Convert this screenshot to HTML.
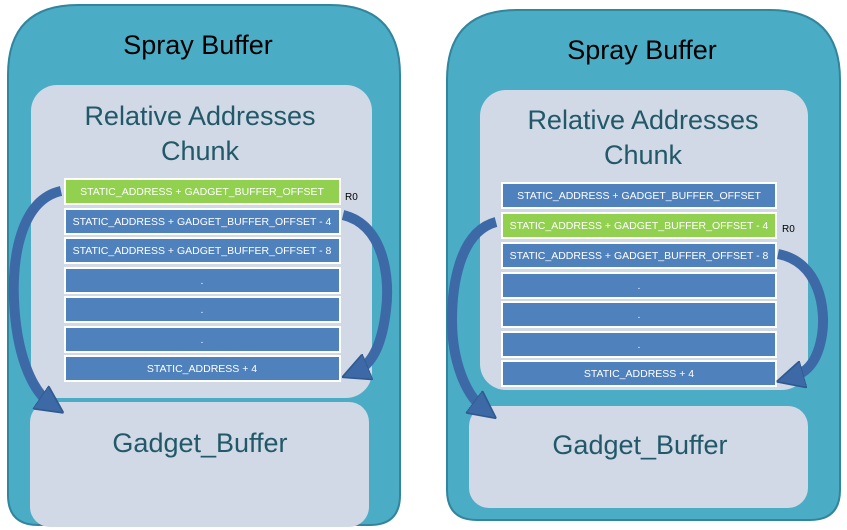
<!DOCTYPE html>
<html><head><meta charset="utf-8"><style>
html,body{margin:0;padding:0;background:#fff;width:847px;height:530px;overflow:hidden}
svg text{font-family:"Liberation Sans",sans-serif}
</style></head><body>
<svg width="847" height="530" viewBox="0 0 847 530" xmlns="http://www.w3.org/2000/svg">
<defs>
<marker id="ah" viewBox="0 0 10 10" refX="5" refY="5" markerWidth="2.8" markerHeight="2.8" orient="auto" markerUnits="strokeWidth">
<path d="M0,0 L10,5 L0,10 Z" fill="#3d6aa6" stroke="#2f5a8f" stroke-width="0.6"/>
</marker>
</defs>
<!-- LEFT -->
<path d="M78,5 H330 Q400,5 400,75 V495 Q400,525 370,525 H38 Q8,525 8,495 V75 Q8,5 78,5 Z" fill="#4bacc6" stroke="#31859c" stroke-width="2"/>
<text x="198" y="54" font-size="27" text-anchor="middle" fill="#000">Spray Buffer</text>
<rect x="31" y="85" width="341" height="313" rx="26" fill="#d1d8e6"/>
<text x="200" y="125" font-size="27" text-anchor="middle" fill="#215968">Relative Addresses</text>
<text x="200" y="160" font-size="27" text-anchor="middle" fill="#215968">Chunk</text>
<rect x="30" y="402" width="339" height="125" rx="20" fill="#d1d8e6"/>
<text x="200" y="452" font-size="27" text-anchor="middle" fill="#215968">Gadget_Buffer</text>
<g font-size="10.5" text-anchor="middle" fill="#fff">
<rect x="65" y="179" width="275" height="25" fill="#92d050" stroke="#fff" stroke-width="2"/><text x="202" y="195">STATIC_ADDRESS + GADGET_BUFFER_OFFSET</text>
<rect x="65" y="209" width="275" height="25" fill="#4f81bd" stroke="#fff" stroke-width="2"/><text x="202" y="225">STATIC_ADDRESS + GADGET_BUFFER_OFFSET - 4</text>
<rect x="65" y="238" width="275" height="25" fill="#4f81bd" stroke="#fff" stroke-width="2"/><text x="202" y="254">STATIC_ADDRESS + GADGET_BUFFER_OFFSET - 8</text>
<rect x="65" y="268" width="275" height="25" fill="#4f81bd" stroke="#fff" stroke-width="2"/><text x="202" y="284">.</text>
<rect x="65" y="297" width="275" height="25" fill="#4f81bd" stroke="#fff" stroke-width="2"/><text x="202" y="313">.</text>
<rect x="65" y="327" width="275" height="25" fill="#4f81bd" stroke="#fff" stroke-width="2"/><text x="202" y="343">.</text>
<rect x="65" y="356" width="275" height="25" fill="#4f81bd" stroke="#fff" stroke-width="2"/><text x="202" y="372">STATIC_ADDRESS + 4</text>
</g>
<text x="345" y="200" font-size="10" fill="#000">R0</text>
<path d="M61,191 C20,200 12,260 14,300 C16,350 30,390 52,405" fill="none" stroke="#3d6aa6" stroke-width="10" marker-end="url(#ah)"/>
<path d="M343,215 C385,225 390,280 386,310 C382,345 372,365 355,372" fill="none" stroke="#3d6aa6" stroke-width="10" marker-end="url(#ah)"/>
<!-- RIGHT -->
<path d="M517,10 H770 Q840,10 840,80 V490 Q840,520 810,520 H477 Q447,520 447,490 V80 Q447,10 517,10 Z" fill="#4bacc6" stroke="#31859c" stroke-width="2"/>
<text x="642" y="59" font-size="27" text-anchor="middle" fill="#000">Spray Buffer</text>
<rect x="480" y="90" width="328" height="300" rx="26" fill="#d1d8e6"/>
<text x="643" y="129" font-size="27" text-anchor="middle" fill="#215968">Relative Addresses</text>
<text x="643" y="164" font-size="27" text-anchor="middle" fill="#215968">Chunk</text>
<rect x="469" y="406" width="339" height="102" rx="20" fill="#d1d8e6"/>
<text x="640" y="454" font-size="27" text-anchor="middle" fill="#215968">Gadget_Buffer</text>
<g font-size="10.5" text-anchor="middle" fill="#fff">
<rect x="502" y="183" width="274" height="25" fill="#4f81bd" stroke="#fff" stroke-width="2"/><text x="639" y="199">STATIC_ADDRESS + GADGET_BUFFER_OFFSET</text>
<rect x="502" y="213" width="274" height="25" fill="#92d050" stroke="#fff" stroke-width="2"/><text x="639" y="229">STATIC_ADDRESS + GADGET_BUFFER_OFFSET - 4</text>
<rect x="502" y="243" width="274" height="25" fill="#4f81bd" stroke="#fff" stroke-width="2"/><text x="639" y="259">STATIC_ADDRESS + GADGET_BUFFER_OFFSET - 8</text>
<rect x="502" y="273" width="274" height="25" fill="#4f81bd" stroke="#fff" stroke-width="2"/><text x="639" y="289">.</text>
<rect x="502" y="302" width="274" height="25" fill="#4f81bd" stroke="#fff" stroke-width="2"/><text x="639" y="318">.</text>
<rect x="502" y="332" width="274" height="25" fill="#4f81bd" stroke="#fff" stroke-width="2"/><text x="639" y="348">.</text>
<rect x="502" y="361" width="274" height="25" fill="#4f81bd" stroke="#fff" stroke-width="2"/><text x="639" y="377">STATIC_ADDRESS + 4</text>
</g>
<text x="782" y="232" font-size="10" fill="#000">R0</text>
<path d="M496,222 C458,232 452,290 452,320 C452,360 465,395 485,410" fill="none" stroke="#3d6aa6" stroke-width="10" marker-end="url(#ah)"/>
<path d="M778,254 C820,262 826,310 822,335 C818,360 808,373 790,378" fill="none" stroke="#3d6aa6" stroke-width="10" marker-end="url(#ah)"/>
</svg>
</body></html>
